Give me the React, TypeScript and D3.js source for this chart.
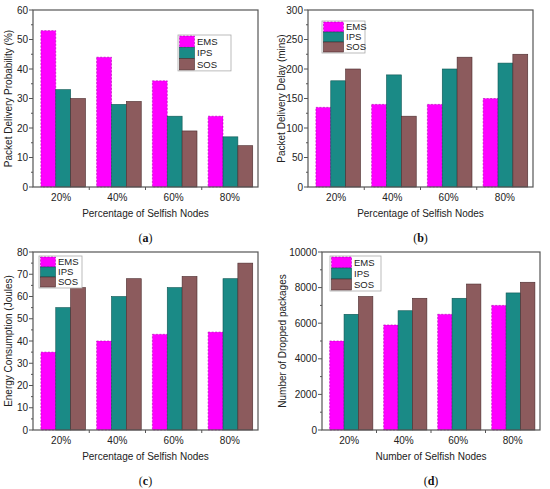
import React from "react";
import * as d3 from "d3";

const categories = ["20%", "40%", "60%", "80%"];
const seriesNames = ["EMS", "IPS", "SOS"];

const probEMS = [53, 44, 36, 24];
const probIPS = [33, 28, 24, 17];
const probSOS = [30, 29, 19, 14];

const delayEMS = [135, 140, 140, 150];
const delayIPS = [180, 190, 200, 210];
const delaySOS = [200, 120, 220, 225];

const energyEMS = [35, 40, 43, 44];
const energyIPS = [55, 60, 64, 68];
const energySOS = [64, 68, 69, 75];

const dropEMS = [5000, 5900, 6500, 7000];
const dropIPS = [6500, 6700, 7400, 7700];
const dropSOS = [7500, 7400, 8200, 8300];

const COLORS = ["#ff00ff", "#1a8a86", "#8c5b5d"];
const STROKES = ["#b000b0", "#0d5552", "#4a2a2c"];

type PanelProps = {
  left: number; right: number; top: number; bottom: number;
  yMax: number; yStep: number;
  series: number[][];
  yTitle: string; xTitle: string; caption: string;
  yTitleX: number;
  legend: { x: number; y: number; sw: number; rh: number; w: number };
};

function Panel(p: PanelProps) {
  const x = d3.scaleBand<string>().domain(categories).range([p.left, p.right])
    .paddingInner(0.2).paddingOuter(0.118).align(0.6);
  const inner = d3.scaleBand<string>().domain(seriesNames).range([0, x.bandwidth()]);
  const y = d3.scaleLinear().domain([0, p.yMax]).range([p.bottom, p.top]);
  const majors = d3.range(0, p.yMax + p.yStep / 2, p.yStep);
  const minors = d3.range(p.yStep / 2, p.yMax, p.yStep);
  const full = d3.scaleBand<string>().domain(categories).range([p.left, p.right]);
  const font = "'Liberation Sans', Arial, sans-serif";
  return (
    <g>
      {p.series.map((vals, si) =>
        vals.map((v, ci) => (
          <rect key={`${si}-${ci}`}
            x={(x(categories[ci]) as number) + (inner(seriesNames[si]) as number)}
            y={y(v)} width={inner.bandwidth()} height={p.bottom - y(v)}
            fill={COLORS[si]} stroke={STROKES[si]} strokeWidth={0.6}
            strokeDasharray={si === 0 ? "2,1.5" : undefined} />
        ))
      )}
      <rect x={p.left} y={p.top} width={p.right - p.left} height={p.bottom - p.top}
        fill="none" stroke="#555" strokeWidth={1.2} />
      {majors.map((t) => (
        <g key={`m${t}`}>
          <line x1={p.left - 4} x2={p.left} y1={y(t)} y2={y(t)} stroke="#555" strokeWidth={1} />
          <text x={p.left - 5} y={y(t)} dy="0.35em" textAnchor="end" fontSize={10} fontFamily={font} fill="#222">{t}</text>
        </g>
      ))}
      {minors.map((t) => (
        <line key={`n${t}`} x1={p.left - 2} x2={p.left} y1={y(t)} y2={y(t)} stroke="#555" strokeWidth={1} />
      ))}
      {categories.slice(1).map((c) => (
        <line key={`xt${c}`} x1={full(c) as number} x2={full(c) as number} y1={p.bottom} y2={p.bottom + 3} stroke="#555" strokeWidth={1} />
      ))}
      {categories.map((c) => (
        <text key={`xl${c}`} x={(full(c) as number) + full.bandwidth() / 2} y={p.bottom + 10} dy="0.35em"
          textAnchor="middle" fontSize={10} fontFamily={font} fill="#222">{c}</text>
      ))}
      <text x={(p.left + p.right) / 2} y={p.bottom + 26} dy="0.35em" textAnchor="middle" fontSize={10} fontFamily={font} fill="#222">{p.xTitle}</text>
      <text transform={`translate(${p.yTitleX},${(p.top + p.bottom) / 2}) rotate(-90)`} dy="0.35em" textAnchor="middle" fontSize={10} fontFamily={font} fill="#222">{p.yTitle}</text>
      <text x={(p.left + p.right) / 2} y={p.bottom + 51} dy="0.35em" textAnchor="middle" fontSize={12} fontFamily="'Liberation Serif', 'Times New Roman', serif" fill="#111">
        (<tspan fontWeight="bold">{p.caption}</tspan>)
      </text>
      <g>
        <rect x={p.legend.x} y={p.legend.y} width={p.legend.w} height={p.legend.rh * 3 + 2} fill="#fff" stroke="#aaa" strokeWidth={0.8} />
        {seriesNames.map((s, i) => (
          <g key={s}>
            <rect x={p.legend.x + 1.5} y={p.legend.y + 1 + i * p.legend.rh} width={p.legend.sw} height={p.legend.rh}
              fill={COLORS[i]} stroke={STROKES[i]} strokeWidth={0.6} strokeDasharray={i === 0 ? "2,1.5" : undefined} />
            <text x={p.legend.x + p.legend.sw + 4} y={p.legend.y + 1 + i * p.legend.rh + p.legend.rh / 2} dy="0.35em"
              fontSize={9.5} fontFamily={font} fill="#222">{s}</text>
          </g>
        ))}
      </g>
    </g>
  );
}

export default function App() {
  return (
    <svg width={550} height={489} style={{ position: "absolute", left: 0, top: 0, background: "#fff" }}>
      <rect width={550} height={489} fill="#fff" />
      <Panel left={33} right={258} top={10} bottom={187} yMax={60} yStep={10}
        series={[probEMS, probIPS, probSOS]} yTitle="Packet Delivery Probability (%)"
        xTitle="Percentage of Selfish Nodes" caption="a" yTitleX={8}
        legend={{ x: 178, y: 35, sw: 15, rh: 11.3, w: 53 }} />
      <Panel left={308} right={533} top={10} bottom={187} yMax={300} yStep={50}
        series={[delayEMS, delayIPS, delaySOS]} yTitle="Packet Delivery Delay (mins)"
        xTitle="Percentage of Selfish Nodes" caption="b" yTitleX={281}
        legend={{ x: 322, y: 21, sw: 20, rh: 10, w: 43 }} />
      <Panel left={33} right={258} top={252} bottom={430} yMax={80} yStep={10}
        series={[energyEMS, energyIPS, energySOS]} yTitle="Energy Consumption (Joules)"
        xTitle="Percentage of Selfish Nodes" caption="c" yTitleX={8}
        legend={{ x: 39, y: 256, sw: 15, rh: 10, w: 43 }} />
      <Panel left={322} right={540} top={252} bottom={430} yMax={10000} yStep={2000}
        series={[dropEMS, dropIPS, dropSOS]} yTitle="Number of Dropped packages"
        xTitle="Number of Selfish Nodes" caption="d" yTitleX={282}
        legend={{ x: 330, y: 256, sw: 20, rh: 11, w: 51 }} />
    </svg>
  );
}
